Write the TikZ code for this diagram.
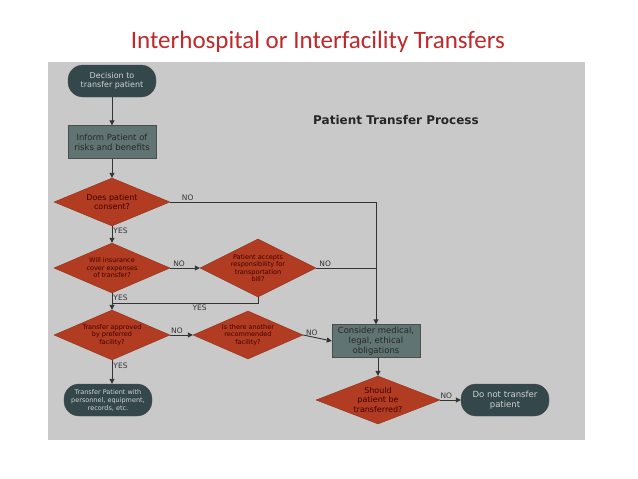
\documentclass[tikz,border=0pt]{standalone}
\usepackage{fontspec}
\setmainfont{DejaVu Sans}
\newfontfamily\titlefont{Carlito}
\usetikzlibrary{shapes.geometric,arrows.meta}
\definecolor{pill}{HTML}{34474B}
\definecolor{boxc}{HTML}{617474}
\definecolor{dia}{HTML}{B23C22}
\definecolor{panel}{HTML}{C9C9C9}
\definecolor{ttl}{HTML}{C0282A}
\tikzset{
 pillbox/.style={draw=gray!60!black,fill=pill,rounded corners=15pt,minimum width=88pt,minimum height=32pt,inner sep=1pt,align=center,text=gray!35,font=\fontsize{8}{9.5}\selectfont},
 rectbox/.style={draw=gray!60!black,fill=boxc,minimum width=88pt,minimum height=33pt,inner sep=1pt,align=center,text=black!85,font=\fontsize{8.5}{10}\selectfont},
 diabox/.style={diamond,draw=dia!80!black,fill=dia,inner sep=0pt},
 diatext/.style={align=center,text=black!75!red,inner sep=0pt,font=\fontsize{6.5}{7.5}\selectfont},
 conn/.style={draw=gray!40!black,line width=0.9pt},
 arr/.style={conn,-{Triangle[length=5pt,width=5pt]}},
 lbl/.style={font=\fontsize{7.5}{8.5}\selectfont,text=black!80,inner sep=1pt}
}
\begin{document}
\begin{tikzpicture}[x=1pt,y=-1pt]
\useasboundingbox (0,0) rectangle (638,479);
\fill[white] (0,0) rectangle (638,479);
\fill[panel] (48,62) rectangle (585,440);
\node[text=ttl,font=\titlefont\fontsize{25}{28}\selectfont] (title) at (318,42) {Interhospital or Interfacility Transfers};
\node[font=\bfseries\fontsize{12}{14}\selectfont,text=black!85] (ptp) at (396,120) {Patient Transfer Process};
\node[pillbox] (start) at (112,81) {Decision to\\transfer patient};
\node[rectbox] (inform) at (112,142) {Inform Patient of\\risks and benefits};
\node[diabox,minimum width=116pt,minimum height=48pt] (consent) at (112,202) {};
\node[diatext,font=\fontsize{8}{9.5}\selectfont] (consent-t) at (consent) {Does patient\\consent?};
\node[diabox,minimum width=116pt,minimum height=50pt] (ins) at (112,268) {};
\node[diatext] (ins-t) at (ins) {Will insurance\\cover expenses\\of transfer?};
\node[diabox,minimum width=116pt,minimum height=58pt] (accept) at (258,268) {};
\node[diatext] (accept-t) at (accept) {Patient accepts\\responsibility for\\transportation\\bill?};
\node[diabox,minimum width=116pt,minimum height=50pt] (appr) at (112,335) {};
\node[diatext] (appr-t) at (appr) {Transfer approved\\by preferred\\facility?};
\node[diabox,minimum width=110pt,minimum height=48pt] (other) at (248,335) {};
\node[diatext] (other-t) at (other) {Is there another\\recommended\\facility?};
\node[rectbox] (consider) at (376,341) {Consider medical,\\legal, ethical\\obligations};
\node[diabox,minimum width=124pt,minimum height=48pt] (should) at (378,400) {};
\node[diatext,font=\fontsize{8}{9.5}\selectfont] (should-t) at (should) {Should\\patient be\\transferred?};
\node[pillbox,font=\fontsize{6.5}{8}\selectfont] (tp) at (108,400) {Transfer Patient with\\personnel, equipment,\\records, etc.};
\node[pillbox,font=\fontsize{8.5}{10}\selectfont] (dnt) at (505,400) {Do not transfer\\patient};
\coordinate (c1) at (376,202);
\coordinate (c2) at (258,303);
\coordinate (c3) at (112,303);
\draw[arr] (start) -- (inform);
\draw[arr] (inform) -- (consent);
\draw[arr] (consent) -- node[lbl,right,pos=0.3]{YES} (ins);
\draw[conn] (consent.east) -- node[lbl,above,pos=0.05,anchor=south west]{NO} (c1);
\draw[arr] (c1) -- (consider.north);
\draw[arr] (ins.east) -- node[lbl,above,pos=0.3]{NO} (accept.west);
\draw[conn] (accept.east) -- node[lbl,above,pos=0.15]{NO} (accept.east -| c1);
\draw[conn] (accept.south) -- (c2) -- node[lbl,below,pos=0.4]{YES} (c3);
\draw[arr] (ins) -- node[lbl,right,pos=0.25]{YES} (appr);
\draw[arr] (appr.east) -- node[lbl,above,pos=0.3]{NO} (other.west);
\draw[arr] (other.east) -- node[lbl,above,pos=0.3]{NO} (consider.west);
\draw[arr] (appr) -- node[lbl,right,pos=0.25]{YES} (tp.north -| appr);
\draw[arr] (consider.south -| should) -- (should);
\draw[arr] (should.east) -- node[lbl,above,pos=0.3]{NO} (dnt.west);
\end{tikzpicture}
\end{document}
